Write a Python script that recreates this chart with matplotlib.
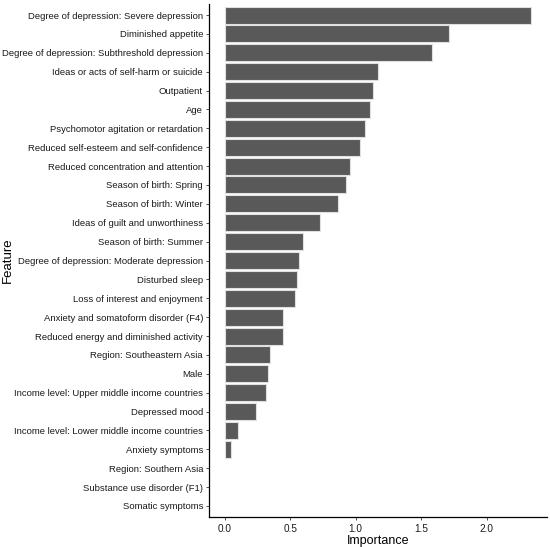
import numpy as np
import matplotlib
matplotlib.use('Agg')
import matplotlib.pyplot as plt

features = [
    'Degree of depression: Severe depression',
    'Diminished appetite',
    'Degree of depression: Subthreshold depression',
    'Ideas or acts of self-harm or suicide',
    'Outpatient',
    'Age',
    'Psychomotor agitation or retardation',
    'Reduced self-esteem and self-confidence',
    'Reduced concentration and attention',
    'Season of birth: Spring',
    'Season of birth: Winter',
    'Ideas of guilt and unworthiness',
    'Season of birth: Summer',
    'Degree of depression: Moderate depression',
    'Disturbed sleep',
    'Loss of interest and enjoyment',
    'Anxiety and somatoform disorder (F4)',
    'Reduced energy and diminished activity',
    'Region: Southeastern Asia',
    'Male',
    'Income level: Upper middle income countries',
    'Depressed mood',
    'Income level: Lower middle income countries',
    'Anxiety symptoms',
    'Region: Southern Asia',
    'Substance use disorder (F1)',
    'Somatic symptoms',
]
importance = [2.336, 1.71, 1.585, 1.173, 1.135, 1.112, 1.071, 1.031, 0.959,
              0.929, 0.867, 0.728, 0.598, 0.567, 0.555, 0.539, 0.448, 0.446,
              0.346, 0.331, 0.318, 0.239, 0.099, 0.046, 0.0, 0.0, 0.0]
xticks = [0.0, 0.5, 1.0, 1.5, 2.0]

plt.rcParams['font.family'] = ['Liberation Sans', 'DejaVu Sans']

fig = plt.figure(figsize=(5.5, 5.47), dpi=100)
ax = fig.add_axes([0.3806, 0.0543, 0.6134, 0.9389])

ypos = np.arange(len(features))
# no outline on the empty bars, they show nothing in the original
widths = [0.8 if v > 0 else 0 for v in importance]
ax.barh(ypos, importance, height=0.9, color='#595959', edgecolor='#e0e0e0', linewidth=widths)

ax.set_ylim(len(features) - 0.4, -0.6)
ax.set_xlim(-0.117, 2.458)
ax.set_yticks(ypos)
ax.set_yticklabels(features, fontsize=6.8, color='#1a1a1a')
ax.set_xticks(xticks)
ax.set_xticklabels([f'{t:.1f}' for t in xticks], fontsize=7.2, color='#1a1a1a')
ax.tick_params(axis='both', length=2.5, width=0.6, color='#333333', pad=2)

for s in ['top', 'right']:
    ax.spines[s].set_visible(False)
for s in ['left', 'bottom']:
    ax.spines[s].set_linewidth(0.9)
    ax.spines[s].set_color('black')

ax.set_xlabel('Importance', fontsize=9, labelpad=1)
ax.set_ylabel('Feature', fontsize=9.5)
ax.yaxis.set_label_coords(-0.578, 0.5)

fig.savefig('out.png', dpi=100)
